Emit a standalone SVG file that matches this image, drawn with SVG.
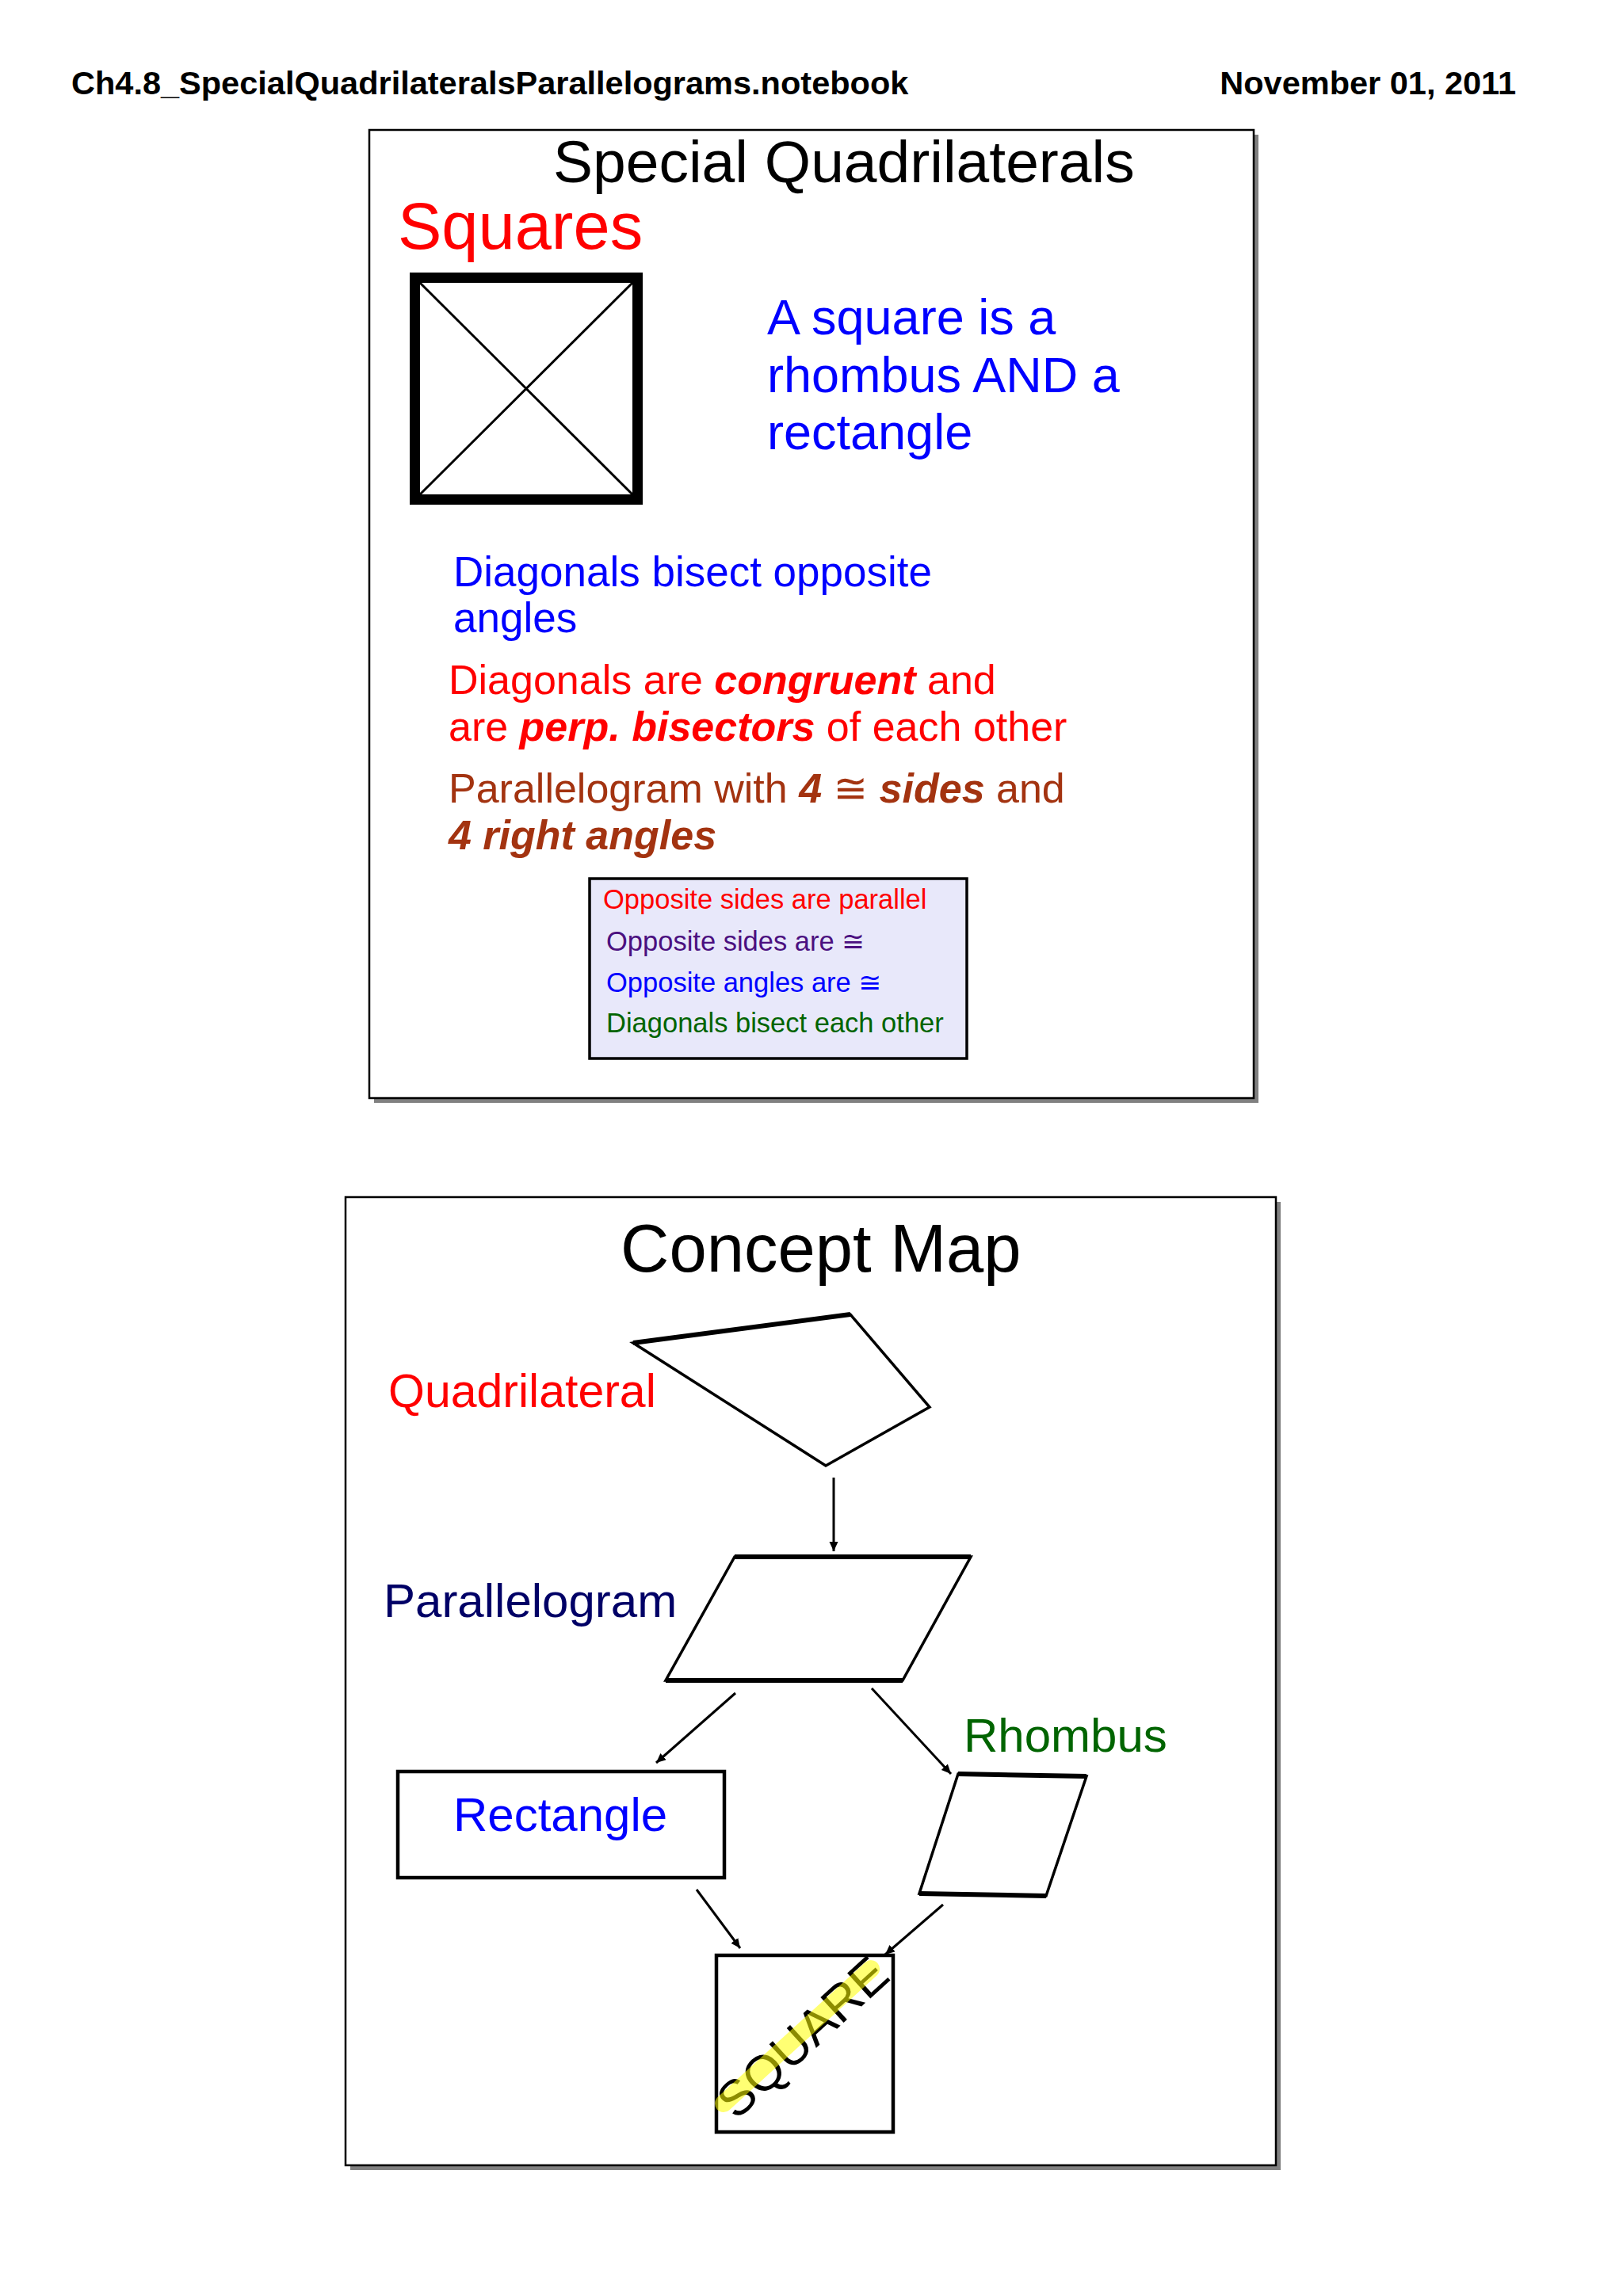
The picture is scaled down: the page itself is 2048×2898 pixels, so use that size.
<svg xmlns="http://www.w3.org/2000/svg" width="2048" height="2898" viewBox="0 0 2048 2898">
<style>
text{font-family:"Liberation Sans",Arial,sans-serif}
.hdr{font-size:41.5px;font-weight:bold;fill:#000}
.panel{fill:#fff;stroke:#000;stroke-width:2.5}
.shadow{fill:#808080}
.shape{fill:#fff;stroke:#000;stroke-width:3.5;stroke-linejoin:miter}
.thick{stroke:#000;stroke-width:6;fill:none}
.conn line{stroke:#000;stroke-width:3;marker-end:url(#ah)}
.bi{font-weight:bold;font-style:italic}
.sym{font-family:"DejaVu Sans",sans-serif;font-weight:normal;font-style:normal}
</style>
<defs>
<marker id="ah" markerUnits="userSpaceOnUse" markerWidth="14" markerHeight="12" refX="12" refY="5.5" orient="auto">
<path d="M0,0 L12,5.5 L0,11 z" fill="#000"/>
</marker>
</defs>
<rect width="2048" height="2898" fill="#fff"/>
<g id="header">
<text class="hdr" x="90" y="119">Ch4.8_SpecialQuadrilateralsParallelograms.notebook</text>
<text class="hdr" x="1913" y="119" text-anchor="end">November 01, 2011</text>
</g>
<g id="panel-squares">
<rect class="shadow" x="472" y="170" width="1116" height="1222"/>
<rect class="panel" x="466" y="164" width="1116" height="1222"/>
<text x="698" y="230" font-size="75" fill="#000">Special Quadrilaterals</text>
<text x="502" y="314" font-size="83" fill="#ff0000">Squares</text>
<g id="square-figure">
<rect x="523.5" y="350.5" width="281" height="280" fill="#fff" stroke="#000" stroke-width="13"/>
<line x1="530" y1="357" x2="798" y2="624" stroke="#000" stroke-width="3"/>
<line x1="798" y1="357" x2="530" y2="624" stroke="#000" stroke-width="3"/>
</g>
<text font-size="63" fill="#0000ff"><tspan x="968" y="422">A square is a</tspan><tspan x="968" y="495">rhombus AND a</tspan><tspan x="968" y="567">rectangle</tspan></text>
<text font-size="53" fill="#0000ff"><tspan x="572" y="740">Diagonals bisect opposite</tspan><tspan x="572" y="798">angles</tspan></text>
<text font-size="52" fill="#ff0000"><tspan x="566" y="876">Diagonals are <tspan class="bi">congruent</tspan> and</tspan><tspan x="566" y="935">are <tspan class="bi">perp. bisectors</tspan> of each other</tspan></text>
<text font-size="52" fill="#a33310"><tspan x="566" y="1013">Parallelogram with <tspan class="bi">4</tspan> <tspan class="sym">≅</tspan> <tspan class="bi">sides</tspan> and</tspan><tspan x="566" y="1072" class="bi">4 right angles</tspan></text>
<g id="props-box">
<rect x="744" y="1109" width="476" height="227" fill="#e8e8fa" stroke="#000" stroke-width="3.5"/>
<text x="761" y="1147" font-size="34.5" fill="#ff0000">Opposite sides are parallel</text>
<text x="765" y="1200" font-size="34.5" fill="#4b1080">Opposite sides are <tspan class="sym">≅</tspan></text>
<text x="765" y="1252" font-size="34.5" fill="#0000ff">Opposite angles are <tspan class="sym">≅</tspan></text>
<text x="765" y="1303" font-size="34.5" fill="#006400">Diagonals bisect each other</text>
</g>
</g>
<g id="panel-concept-map">
<rect class="shadow" x="442" y="1517" width="1174" height="1222"/>
<rect class="panel" x="436" y="1511" width="1174" height="1222"/>
<text x="783" y="1605" font-size="85" fill="#000">Concept Map</text>
</g>
<g id="node-quadrilateral">
<polygon class="shape" points="799,1695 1073,1659 1173,1776 1042,1850"/>
<line class="thick" x1="799" y1="1695" x2="1073" y2="1659"/>
<text x="490" y="1776" font-size="59" fill="#ff0000">Quadrilateral</text>
</g>
<g id="node-parallelogram">
<polygon class="shape" points="927,1965 1225,1965 1139,2121 840,2121"/>
<line class="thick" x1="927" y1="1965" x2="1225" y2="1965"/>
<line class="thick" x1="840" y1="2121" x2="1139" y2="2121"/>
<text x="484" y="2041" font-size="60" fill="#000066">Parallelogram</text>
</g>
<g id="node-rectangle">
<rect x="502" y="2236" width="412" height="134" fill="#fff" stroke="#000" stroke-width="4.5"/>
<text x="572" y="2311" font-size="60" fill="#0000ff">Rectangle</text>
</g>
<g id="node-rhombus">
<polygon class="shape" points="1209,2239 1371,2242 1320,2393 1160,2390"/>
<line class="thick" x1="1209" y1="2239" x2="1371" y2="2242"/>
<line class="thick" x1="1160" y1="2390" x2="1320" y2="2393"/>
<text x="1216" y="2211" font-size="60" fill="#006400">Rhombus</text>
</g>
<g id="node-square">
<rect x="904" y="2468" width="223" height="223" fill="#fff" stroke="#000" stroke-width="4.5"/>
<g transform="translate(929,2677) rotate(-42.4)">
<text x="0" y="0" font-size="63" fill="#000">SQUARE</text>
<rect x="-8" y="-38" width="274" height="22" rx="11" fill="#ffff00" opacity="0.55"/>
</g>
</g>
<g id="connectors" class="conn">
<line x1="1052" y1="1865" x2="1052" y2="1958"/>
<line x1="928" y1="2137" x2="828" y2="2225"/>
<line x1="1100" y1="2131" x2="1200" y2="2239"/>
<line x1="879" y1="2385" x2="934" y2="2459"/>
<line x1="1190" y1="2404" x2="1117" y2="2467"/>
</g>
</svg>
